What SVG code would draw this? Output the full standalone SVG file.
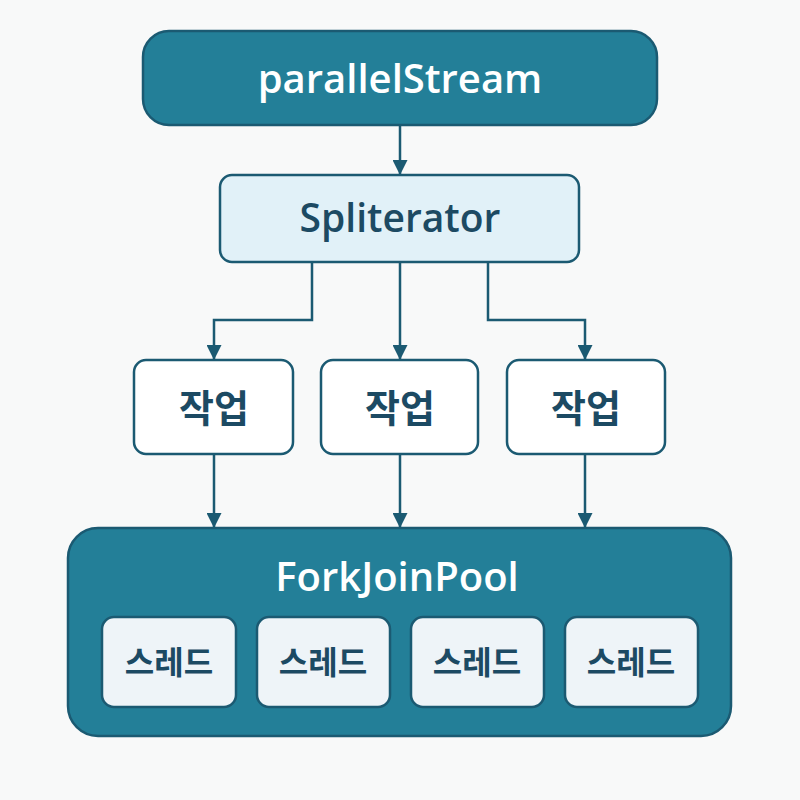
<svg xmlns="http://www.w3.org/2000/svg" width="800" height="800" viewBox="0 0 800 800">
<style>
.dark{fill:#237f98;stroke:#1b5a72;stroke-width:2.5}
.light{fill:#e1f1f8;stroke:#1b5a72;stroke-width:2.5}
.white{fill:#ffffff;stroke:#1b5a72;stroke-width:2.5}
.thread{fill:#eef4f8;stroke:#1b5a72;stroke-width:2.5}
.tw{fill:#ffffff;font-family:"Open Sans","Noto Sans CJK KR",sans-serif;font-weight:600;text-anchor:middle}
.td{fill:#1c4a63;font-family:"Open Sans","Noto Sans CJK KR",sans-serif;font-weight:600;text-anchor:middle}
.c{fill:none;stroke:#1b5a72;stroke-width:2.5}
</style>
<defs><marker id="ah" viewBox="0 0 10 10" refX="10" refY="5" markerWidth="6" markerHeight="6" markerUnits="strokeWidth" orient="auto"><path d="M0,0L10,5L0,10z" fill="#1b5a72"/></marker></defs>
<rect width="800" height="800" fill="#f8f9f9"/>
<g id="connectors">
<path class="c" d="M400,125V175" marker-end="url(#ah)"/>
<path class="c" d="M312,262V320H214V360" marker-end="url(#ah)"/>
<path class="c" d="M400,262V360" marker-end="url(#ah)"/>
<path class="c" d="M488,262V320H585V360" marker-end="url(#ah)"/>
<path class="c" d="M214,454V528" marker-end="url(#ah)"/>
<path class="c" d="M400,454V528" marker-end="url(#ah)"/>
<path class="c" d="M585,454V528" marker-end="url(#ah)"/>
</g>
<g id="parallelStream"><rect class="dark" x="143" y="31" width="514" height="94" rx="26"/><text class="tw" x="400" y="93" font-size="40">parallelStream</text></g>
<g id="spliterator"><rect class="light" x="220" y="175" width="359" height="87" rx="12"/><text class="td" x="400" y="232" font-size="39">Spliterator</text></g>
<g id="task1"><rect class="white" x="134" y="360" width="159" height="94" rx="12"/><text class="td" x="214" y="422" font-size="38">작업</text></g>
<g id="task2"><rect class="white" x="321" y="360" width="157" height="94" rx="12"/><text class="td" x="400" y="422" font-size="38">작업</text></g>
<g id="task3"><rect class="white" x="507" y="360" width="158" height="94" rx="12"/><text class="td" x="586" y="422" font-size="38">작업</text></g>
<g id="forkJoinPool"><rect class="dark" x="68" y="528" width="663" height="208" rx="30"/><text class="tw" x="397" y="591" font-size="40">ForkJoinPool</text>
<g id="thread1"><rect class="thread" x="102" y="617" width="134" height="90" rx="12"/><text class="td" x="169" y="674" font-size="32">스레드</text></g>
<g id="thread2"><rect class="thread" x="257" y="617" width="133" height="90" rx="12"/><text class="td" x="323" y="674" font-size="32">스레드</text></g>
<g id="thread3"><rect class="thread" x="411" y="617" width="133" height="90" rx="12"/><text class="td" x="477" y="674" font-size="32">스레드</text></g>
<g id="thread4"><rect class="thread" x="565" y="617" width="133" height="90" rx="12"/><text class="td" x="631" y="674" font-size="32">스레드</text></g>
</g>
</svg>
